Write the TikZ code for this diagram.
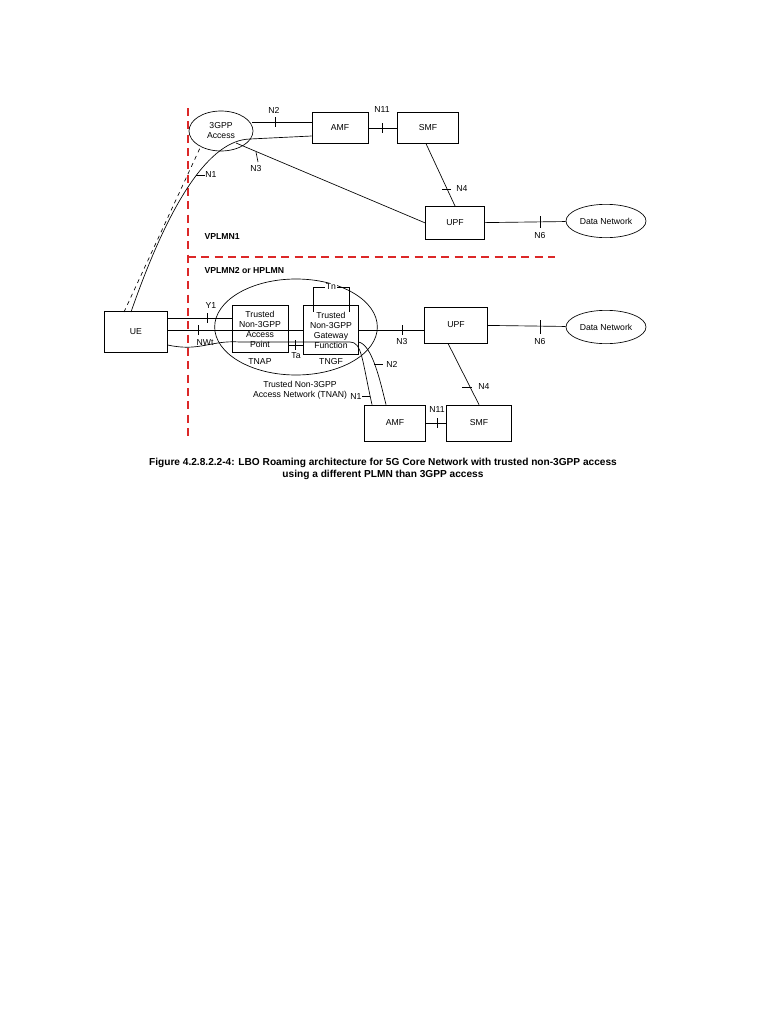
\documentclass[tikz,border=0pt]{standalone}
\usepackage{fontspec}
\setmainfont{Liberation Sans}
\usetikzlibrary{shapes.geometric}
\begin{document}
\begin{tikzpicture}[x=0.75pt,y=-0.75pt,
  box/.style={draw,line width=0.5pt,align=center,font=\fontsize{6.5}{7.5}\selectfont},
  lbl/.style={font=\fontsize{6.5}{7.5}\selectfont,inner sep=1pt},
  ln/.style={line width=0.5pt},
  red/.style={draw={rgb,255:red,220;green,40;blue,40},line width=1.3pt,dash pattern=on 6pt off 4pt}]
\useasboundingbox (0,0) rectangle (768,1024);
\draw[red] (188,108) -- (188,440);
\draw[red] (188,257) -- (555,257);
\node[lbl,font=\bfseries\fontsize{6.5}{7.5}\selectfont,anchor=west] (v1) at (203,237) {VPLMN1};
\node[lbl,font=\bfseries\fontsize{6.5}{7.5}\selectfont,anchor=west] (v2) at (203,271) {VPLMN2 or HPLMN};
% top
\node[box,ellipse,minimum width=48pt,minimum height=30pt,inner sep=0pt] (acc) at (221,131) {3GPP\\Access};
\node[box,minimum width=42pt,minimum height=23pt] (amf1) at (340,128) {AMF};
\node[box,minimum width=46pt,minimum height=23pt] (smf1) at (428,128) {SMF};
\node[box,minimum width=44pt,minimum height=25pt] (upf1) at (455,223) {UPF};
\node[box,ellipse,minimum width=60pt,minimum height=25pt,inner sep=0pt] (dn1) at (606,221) {Data Network};
% bottom
\node[box,minimum width=47pt,minimum height=31pt] (ue) at (136,332) {UE};
\node[draw,ellipse,line width=0.5pt,minimum width=122pt,minimum height=72pt] (tnan) at (296,327) {};
\node[box,minimum width=42pt,minimum height=35pt,inner sep=0pt] (tnap) at (260,329) {Trusted\\Non-3GPP\\Access\\Point};
\node[box,minimum width=41pt,minimum height=37pt,inner sep=0pt] (tngf) at (331,330) {Trusted\\Non-3GPP\\Gateway\\Function};
\node[box,minimum width=47pt,minimum height=27pt] (upf2) at (456,325) {UPF};
\node[box,ellipse,minimum width=60pt,minimum height=25pt,inner sep=0pt] (dn2) at (606,327) {Data Network};
\node[box,minimum width=46pt,minimum height=27pt] (amf2) at (395,423) {AMF};
\node[box,minimum width=49pt,minimum height=27pt] (smf2) at (479,423) {SMF};
\node[lbl] (tnapl) at (260,362) {TNAP};
\node[lbl] (tngfl) at (331,362) {TNGF};
\node[lbl,align=center] (tnanl) at (300,390) {Trusted Non-3GPP\\Access Network (TNAN)};
% top connectors
\coordinate (a2) at (252,122);
\draw[ln] (a2) -- (amf1.west |- a2);
\draw[ln] (275,117) -- (275,127); \node[lbl] (ln2) at (274,110) {N2};
\draw[ln] (amf1) -- (smf1); \draw[ln] (382,123) -- (382,133); \node[lbl] (ln11) at (382,110) {N11};
\coordinate (a3) at (236,143);
\draw[ln] (a3) -- (upf1.west);
\draw[ln] (256,152) -- (258,162); \node[lbl] (ln3) at (256,169) {N3};
\draw[ln] (smf1.south) ++(-2,0) coordinate (s4) -- (upf1.north);
\draw[ln] (442,189) -- (451,189); \node[lbl] (ln4) at (462,189) {N4};
\draw[ln] (upf1) -- (dn1);
\draw[ln] (540,216) -- (540,228); \node[lbl] (ln6) at (540,236) {N6};
\coordinate (ue1) at (131,312); \coordinate (ue2) at (124,312);
\draw[ln] (ue1) .. controls (170,200) and (210,140) .. (250,139) -- (amf1.west |- 0,136);
\draw[ln,dashed] (ue2) -- (200,148);
\draw[ln] (196,175) -- (205,175); \node[lbl] (ln1) at (211,175) {N1};
% bottom connectors
\draw[ln] (ue.east |- 0,318) -- (tnap.west |- 0,318);
\draw[ln] (207,313) -- (207,323); \node[lbl] (ly1) at (211,306) {Y1};
\draw[ln] (ue.east |- 0,330) -- (tngf.west |- 0,330);
\draw[ln] (198,325) -- (198,335); \node[lbl] (lnw) at (205,343) {NWt};
\draw[ln] (tnap.east |- 0,345) -- (tngf.west |- 0,345);
\draw[ln] (295,340) -- (295,350); \node[lbl] (lta) at (296,356) {Ta};
\draw[ln] (313,311.5) -- (313,287) -- (349,287) -- (349,311.5);
\node[lbl,fill=white] (ltn) at (331,287) {Tn};
\draw[ln] (tngf.east |- 0,330) -- (upf2.west |- 0,330);
\draw[ln] (402,325) -- (402,335); \node[lbl] (ln3b) at (402,342) {N3};
\draw[ln] (upf2) -- (dn2);
\draw[ln] (540,320) -- (540,334); \node[lbl] (ln6b) at (540,342) {N6};
\draw[ln] (ue.east |- 0,345) .. controls (200,352) and (210,340) .. (240,342) -- (350,342) .. controls (362,342) and (362,360) .. (amf2.north -| 372,0);
\draw[ln] (tngf.east |- 0,342) .. controls (372,345) and (380,380) .. (amf2.north -| 386,0);
\draw[ln] (374,364) -- (383,364); \node[lbl] (ln2b) at (392,364) {N2};
\draw[ln] (362,396) -- (370,396); \node[lbl] (ln1b) at (356,397) {N1};
\draw[ln] (upf2.south) ++(-8,0) -- (smf2.north);
\draw[ln] (462,387) -- (472,387); \node[lbl] (ln4b) at (484,387) {N4};
\draw[ln] (amf2) -- (smf2);
\draw[ln] (437,418) -- (437,428); \node[lbl] (ln11b) at (437,410) {N11};
\node[font=\bfseries\fontsize{7.6}{9.4}\selectfont,align=center] (cap) at (383,469) {Figure 4.2.8.2.2-4: LBO Roaming architecture for 5G Core Network with trusted non-3GPP access\\using a different PLMN than 3GPP access};
\end{tikzpicture}
\end{document}
